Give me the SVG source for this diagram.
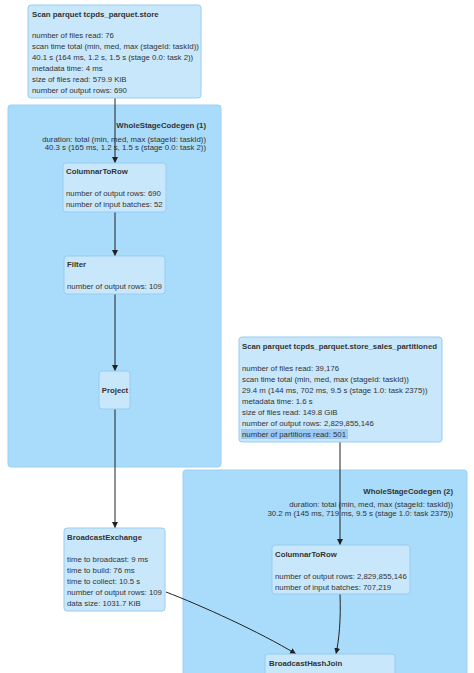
<svg xmlns="http://www.w3.org/2000/svg" width="474" height="673" viewBox="0 0 474 673">
<defs>
<style>
.cluster{fill:#A9DBFA;stroke:#9CD0F5;stroke-width:1}
.node{fill:#C9E7FB;stroke:#97CCF2;stroke-width:1}
text{font-family:"Liberation Sans",Arial,sans-serif;font-size:7.8px;fill:#333}
.t{font-weight:bold}
.r{text-anchor:end}
.c{text-anchor:middle}
.edge{fill:none;stroke:#222;stroke-width:1}
</style>
<marker id="arr" viewBox="0 0 10 10" refX="10" refY="5" markerWidth="6" markerHeight="6" markerUnits="userSpaceOnUse" orient="auto">
<path d="M0,0 L10,5 L0,10 z" fill="#222"/>
</marker>
</defs>
<rect width="474" height="673" fill="#fff"/>
<g id="cluster1">
<rect class="cluster" x="8" y="105" width="213" height="362" rx="3"/>
<text class="t r" x="206" y="128">WholeStageCodegen (1)</text>
<text class="r" x="206" y="142">duration: total (min, med, max (stageId: taskId))</text>
<text class="r" x="206" y="150">40.3 s (165 ms, 1.2 s, 1.5 s (stage 0.0: task 2))</text>
</g>
<g id="cluster2">
<rect class="cluster" x="183" y="470" width="284" height="210" rx="3"/>
<text class="t r" x="453" y="494">WholeStageCodegen (2)</text>
<text class="r" x="453" y="507">duration: total (min, med, max (stageId: taskId))</text>
<text class="r" x="453" y="515.5">30.2 m (145 ms, 719 ms, 9.5 s (stage 1.0: task 2375))</text>
</g>
<g id="connectors">
<path class="edge" d="M115,98 L115,163" marker-end="url(#arr)"/>
<path class="edge" d="M115,212 L115,256" marker-end="url(#arr)"/>
<path class="edge" d="M115,294 L115,371" marker-end="url(#arr)"/>
<path class="edge" d="M115,409 L115,528" marker-end="url(#arr)"/>
<path class="edge" d="M340,442 L340,545" marker-end="url(#arr)"/>
<path class="edge" d="M340,594 C341,620 339,640 336,654" marker-end="url(#arr)"/>
<path class="edge" d="M166,592 C200,605 260,632 296,654" marker-end="url(#arr)"/>
</g>
<g id="scan-store">
<rect class="node" x="28" y="5" width="173" height="93" rx="3"/>
<text class="t" x="32" y="17">Scan parquet tcpds_parquet.store</text>
<text x="32" y="38">number of files read: 76</text>
<text x="32" y="49">scan time total (min, med, max (stageId: taskId))</text>
<text x="32" y="60">40.1 s (164 ms, 1.2 s, 1.5 s (stage 0.0: task 2))</text>
<text x="32" y="71">metadata time: 4 ms</text>
<text x="32" y="82">size of files read: 579.9 KiB</text>
<text x="32" y="93">number of output rows: 690</text>
</g>
<g id="columnar1">
<rect class="node" x="63" y="163" width="103" height="49" rx="3"/>
<text class="t" x="66" y="174">ColumnarToRow</text>
<text x="66" y="196">number of output rows: 690</text>
<text x="66" y="207">number of input batches: 52</text>
</g>
<g id="filter">
<rect class="node" x="64" y="256" width="101" height="38" rx="3"/>
<text class="t" x="67" y="267">Filter</text>
<text x="67" y="289">number of output rows: 109</text>
</g>
<g id="project">
<rect class="node" x="99" y="371" width="31" height="38" rx="3"/>
<text class="t c" x="115" y="393">Project</text>
</g>
<g id="broadcast-exchange">
<rect class="node" x="64" y="528" width="101" height="83" rx="3"/>
<text class="t" x="67" y="540">BroadcastExchange</text>
<text x="67" y="562">time to broadcast: 9 ms</text>
<text x="67" y="573">time to build: 76 ms</text>
<text x="67" y="584">time to collect: 10.5 s</text>
<text x="67" y="595">number of output rows: 109</text>
<text x="67" y="606">data size: 1031.7 KiB</text>
</g>
<g id="scan-store-sales">
<rect class="node" x="239" y="337" width="203" height="105" rx="3"/>
<rect x="241" y="429" width="107" height="10" fill="#9CC9F3"/>
<text class="t" x="242" y="349">Scan parquet tcpds_parquet.store_sales_partitioned</text>
<text x="242" y="371">number of files read: 39,176</text>
<text x="242" y="382">scan time total (min, med, max (stageId: taskId))</text>
<text x="242" y="393">29.4 m (144 ms, 702 ms, 9.5 s (stage 1.0: task 2375))</text>
<text x="242" y="404">metadata time: 1.6 s</text>
<text x="242" y="415">size of files read: 149.8 GiB</text>
<text x="242" y="426">number of output rows: 2,829,855,146</text>
<text x="242" y="437">number of partitions read: 501</text>
</g>
<g id="columnar2">
<rect class="node" x="272" y="545" width="138" height="49" rx="3"/>
<text class="t" x="275" y="557">ColumnarToRow</text>
<text x="275" y="579">number of output rows: 2,829,855,146</text>
<text x="275" y="590">number of input batches: 707,219</text>
</g>
<g id="broadcast-hash-join">
<rect class="node" x="265" y="654" width="130" height="30" rx="3"/>
<text class="t" x="269" y="666">BroadcastHashJoin</text>
</g>
</svg>
